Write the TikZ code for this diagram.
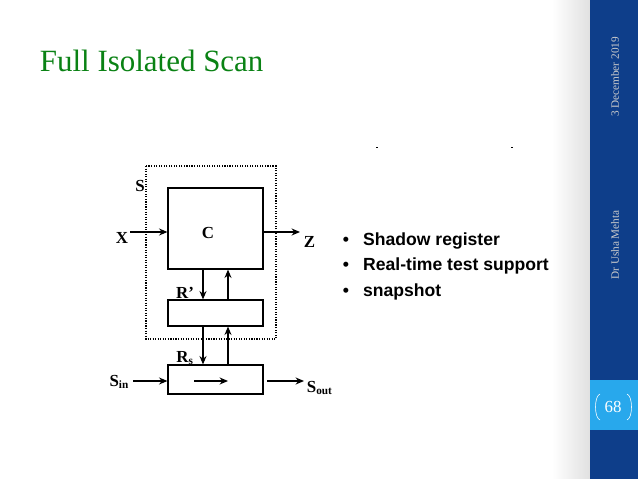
\documentclass[tikz,border=0pt]{standalone}
\usepackage{fontspec}
\setmainfont{Liberation Serif}
\setsansfont{Liberation Sans}
\usetikzlibrary{arrows.meta}
\definecolor{barblue}{RGB}{14,62,138}
\definecolor{pageblue}{RGB}{40,168,236}
\definecolor{titlegreen}{RGB}{10,130,20}
\tikzset{
  blk/.style={draw,thick,minimum width=0.025*95cm},
  sig/.style={thick,-{Stealth[length=6pt,width=5pt]}},
  lbl/.style={font=\bfseries\large},
}
\begin{document}
\begin{tikzpicture}[x=0.025cm,y=-0.025cm]
    \useasboundingbox (0,0) rectangle (638,479);
    % Slide background
    \fill[white] (0,0) rectangle (590,479);
    \shade[left color=white,right color=black!12] (552,0) rectangle (590,479);
    \fill[white] (100,130) rectangle (552,410);
    \fill[barblue] (590,0) rectangle (638,479);
    \fill[pageblue] (590,380) rectangle (638,430);
    % Title and side texts
    \node[anchor=west,text=titlegreen,font=\fontsize{22}{26}\selectfont] (title) at (35,61) {Full Isolated Scan};
    \node[rotate=90,text=black!20,font=\footnotesize] (date) at (615,77) {3 December 2019};
    \node[rotate=90,text=black!20,font=\footnotesize] (author) at (615,245) {Dr Usha Mehta};
    \node[text=white,font=\large] (page) at (613,407) {68};
    \draw[white,thin] (600,394) .. controls (594,396) and (594,418) .. (600,420);
    \draw[white,thin] (627,394) .. controls (633,396) and (633,418) .. (627,420);

    % Blocks
    \draw[thick,densely dotted] (146,166) rectangle (276,339);
    \node[blk,minimum height=0.025*81cm] (C) at (215.5,228.5) {};
    \node[blk,minimum height=0.025*26cm] (Rp) at (215.5,313) {};
    \node[blk,minimum height=0.025*29cm] (Rs) at (215.5,379.5) {};
    \node[lbl] (Clab) at (208,233) {C};
    \node[lbl] (S) at (140,186) {S};
    \node[lbl] (Rplab) at (185,293) {R'};
    \node[lbl] (Rslab) at (185,358) {R\textsubscript{s}};

    % Signals
    \coordinate (xin) at (130,232);
    \coordinate (zout) at (300,232);
    \node[lbl,anchor=east] (X) at (133,238) {X};
    \node[lbl,anchor=west] (Z) at (299,242) {Z};
    \draw[sig] (xin) -- (xin -| C.west);
    \draw[sig] (zout -| C.east) -- (zout);
    \draw[sig] (C.south -| 203,0) -- (Rp.north -| 203,0);
    \draw[sig] (Rp.north -| 228,0) -- (C.south -| 228,0);
    \draw[sig] (Rp.south -| 203,0) -- (Rs.north -| 203,0);
    \draw[sig] (Rs.north -| 228,0) -- (Rp.south -| 228,0);
    \coordinate (sin) at (133,381);
    \coordinate (sout) at (304,381);
    \node[lbl,anchor=east] (Sin) at (134,382) {S\textsubscript{in}};
    \node[lbl,anchor=west] (Sout) at (302,388) {S\textsubscript{out}};
    \draw[sig] (sin) -- (sin -| Rs.west);
    \draw[sig] (267,381) -- (sout);
    \draw[sig] (194,381) -- (228,381);
    % Tiny marks at top
    \draw[thin] (376,147) -- (378,147);
    \draw[thin] (511,147) -- (513,147);

    % Bullet list
    \foreach \t [count=\i] in {Shadow register,Real-time test support,snapshot}{
      \node[anchor=west,font=\sffamily\bfseries\fontsize{12.5}{15}\selectfont] (b\i) at (338,{215+25.5*\i}) {\textbullet\hspace{0.8em}\t};
    }
\end{tikzpicture}
\end{document}
